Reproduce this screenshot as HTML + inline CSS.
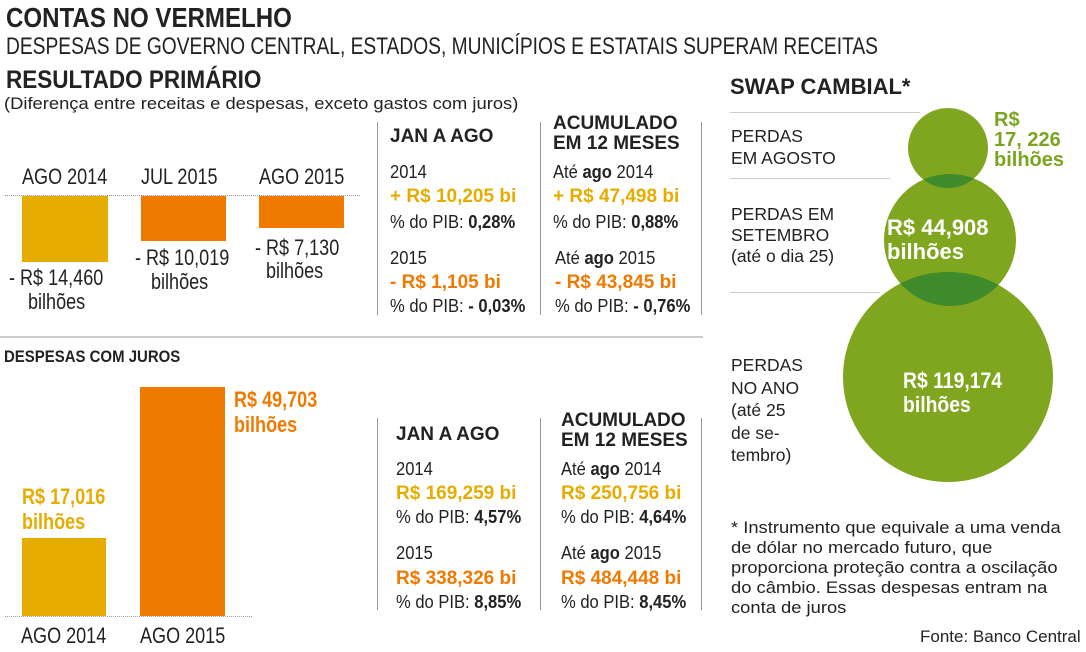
<!DOCTYPE html>
<html><head><meta charset="utf-8"><style>
body{margin:0;width:1086px;height:652px;background:#fff;position:relative;overflow:hidden;font-family:"Liberation Sans",sans-serif;color:#222}
.a{position:absolute;white-space:nowrap}
.n{transform-origin:0 0}
.b{font-weight:bold}
.y{color:#e6ac00}.o{color:#f07a00}.g{color:#7aa51f}
</style></head><body>
<div class="a b n" style="left:6px;top:2px;font-size:28px;transform:scaleX(0.86)">CONTAS NO VERMELHO</div>
<div class="a n" style="left:6px;top:33px;font-size:24px;transform:scaleX(0.8)">DESPESAS DE GOVERNO CENTRAL, ESTADOS, MUNICÍPIOS E ESTATAIS SUPERAM RECEITAS</div>
<div class="a b n" style="left:6px;top:66px;font-size:25px;transform:scaleX(0.9)">RESULTADO PRIMÁRIO</div>
<div class="a n" style="left:4px;top:94px;font-size:17px;transform:scaleX(1.08)">(Diferença entre receitas e despesas, exceto gastos com juros)</div>

<div class="a" style="left:5px;top:195px;width:355px;border-top:1px dotted #999"></div>
<div class="a n" style="left:22px;top:164px;font-size:22px;transform:scaleX(0.82)">AGO 2014</div>
<div class="a n" style="left:141px;top:164px;font-size:22px;transform:scaleX(0.82)">JUL 2015</div>
<div class="a n" style="left:259px;top:164px;font-size:22px;transform:scaleX(0.82)">AGO 2015</div>
<div class="a" style="left:22px;top:196px;width:86px;height:66px;background:#e6ac00"></div>
<div class="a" style="left:141px;top:196px;width:85px;height:45px;background:#f07a00"></div>
<div class="a" style="left:259px;top:196px;width:85px;height:32px;background:#f07a00"></div>
<div class="a n" style="left:9px;top:265px;font-size:22px;transform:scaleX(0.82)">- R$ 14,460</div>
<div class="a n" style="left:28px;top:289px;font-size:22px;transform:scaleX(0.82)">bilhões</div>
<div class="a n" style="left:135px;top:245px;font-size:22px;transform:scaleX(0.82)">- R$ 10,019</div>
<div class="a n" style="left:151px;top:269px;font-size:22px;transform:scaleX(0.82)">bilhões</div>
<div class="a n" style="left:255px;top:235px;font-size:22px;transform:scaleX(0.82)">- R$ 7,130</div>
<div class="a n" style="left:266px;top:258px;font-size:22px;transform:scaleX(0.82)">bilhões</div>

<div class="a" style="left:377px;top:122px;height:193px;border-left:1px solid #999"></div>
<div class="a" style="left:540px;top:122px;height:193px;border-left:1px solid #999"></div>
<div class="a" style="left:701px;top:122px;height:193px;border-left:1px solid #999"></div>
<div class="a b" style="left:390px;top:126px;font-size:19px">JAN A AGO</div>
<div class="a b" style="left:553px;top:114px;font-size:19px;line-height:20px">ACUMULADO<br>EM 12 MESES</div>
<div class="a n" style="left:390px;top:162px;font-size:18px;transform:scaleX(0.92)">2014</div>
<div class="a b y" style="left:390px;top:186px;font-size:19px">+ R$ 10,205 bi</div>
<div class="a n" style="left:390px;top:212px;font-size:18px;transform:scaleX(0.92)">% do PIB: <b>0,28%</b></div>
<div class="a n" style="left:390px;top:248px;font-size:18px;transform:scaleX(0.92)">2015</div>
<div class="a b o" style="left:390px;top:272px;font-size:19px">- R$ 1,105 bi</div>
<div class="a n" style="left:390px;top:296px;font-size:18px;transform:scaleX(0.92)">% do PIB: <b>- 0,03%</b></div>
<div class="a n" style="left:553px;top:162px;font-size:18px;transform:scaleX(0.92)">Até <b>ago</b> 2014</div>
<div class="a b y" style="left:553px;top:186px;font-size:19px">+ R$ 47,498 bi</div>
<div class="a n" style="left:553px;top:212px;font-size:18px;transform:scaleX(0.92)">% do PIB: <b>0,88%</b></div>
<div class="a n" style="left:555px;top:248px;font-size:18px;transform:scaleX(0.92)">Até <b>ago</b> 2015</div>
<div class="a b o" style="left:555px;top:272px;font-size:19px">- R$ 43,845 bi</div>
<div class="a n" style="left:555px;top:296px;font-size:18px;transform:scaleX(0.92)">% do PIB: <b>- 0,76%</b></div>

<div class="a" style="left:0;top:336px;width:703px;border-top:2px solid #ccc"></div>
<div class="a b n" style="left:4px;top:347px;font-size:17px;transform:scaleX(0.88)">DESPESAS COM JUROS</div>
<div class="a" style="left:22px;top:538px;width:84px;height:78px;background:#e6ac00"></div>
<div class="a" style="left:140px;top:387px;width:85px;height:229px;background:#f07a00"></div>
<div class="a" style="left:5px;top:616px;width:247px;border-top:1px dotted #999"></div>
<div class="a b y n" style="left:22px;top:484px;font-size:22px;line-height:25px;transform:scaleX(0.82)">R$ 17,016<br>bilhões</div>
<div class="a b o n" style="left:234px;top:387px;font-size:22px;line-height:25px;transform:scaleX(0.82)">R$ 49,703<br>bilhões</div>
<div class="a n" style="left:21px;top:623px;font-size:22px;transform:scaleX(0.82)">AGO 2014</div>
<div class="a n" style="left:140px;top:623px;font-size:22px;transform:scaleX(0.82)">AGO 2015</div>

<div class="a" style="left:377px;top:418px;height:192px;border-left:1px solid #999"></div>
<div class="a" style="left:540px;top:418px;height:192px;border-left:1px solid #999"></div>
<div class="a" style="left:701px;top:418px;height:192px;border-left:1px solid #999"></div>
<div class="a b" style="left:396px;top:424px;font-size:19px">JAN A AGO</div>
<div class="a b" style="left:561px;top:411px;font-size:19px;line-height:20px">ACUMULADO<br>EM 12 MESES</div>
<div class="a n" style="left:396px;top:459px;font-size:18px;transform:scaleX(0.92)">2014</div>
<div class="a b y" style="left:396px;top:483px;font-size:19px">R$ 169,259 bi</div>
<div class="a n" style="left:396px;top:507px;font-size:18px;transform:scaleX(0.92)">% do PIB: <b>4,57%</b></div>
<div class="a n" style="left:396px;top:543px;font-size:18px;transform:scaleX(0.92)">2015</div>
<div class="a b o" style="left:396px;top:568px;font-size:19px">R$ 338,326 bi</div>
<div class="a n" style="left:396px;top:592px;font-size:18px;transform:scaleX(0.92)">% do PIB: <b>8,85%</b></div>
<div class="a n" style="left:561px;top:459px;font-size:18px;transform:scaleX(0.92)">Até <b>ago</b> 2014</div>
<div class="a b y" style="left:561px;top:483px;font-size:19px">R$ 250,756 bi</div>
<div class="a n" style="left:561px;top:507px;font-size:18px;transform:scaleX(0.92)">% do PIB: <b>4,64%</b></div>
<div class="a n" style="left:561px;top:543px;font-size:18px;transform:scaleX(0.92)">Até <b>ago</b> 2015</div>
<div class="a b o" style="left:561px;top:568px;font-size:19px">R$ 484,448 bi</div>
<div class="a n" style="left:561px;top:592px;font-size:18px;transform:scaleX(0.92)">% do PIB: <b>8,45%</b></div>

<div class="a b" style="left:730px;top:74px;font-size:22px">SWAP CAMBIAL*</div>
<div class="a" style="left:730px;top:112px;width:190px;border-top:1px solid #ccc"></div>
<div class="a" style="left:730px;top:178px;width:160px;border-top:1px solid #ccc"></div>
<div class="a" style="left:730px;top:292px;width:150px;border-top:1px solid #ccc"></div>
<svg class="a" style="left:0;top:0" width="1086" height="652">
<defs><clipPath id="c1"><circle cx="948" cy="148" r="40"/></clipPath><clipPath id="c2"><circle cx="950" cy="240" r="66"/></clipPath></defs>
<circle cx="948" cy="148" r="40" fill="#7fa61e"/>
<circle cx="950" cy="240" r="66" fill="#7fa61e"/>
<circle cx="948" cy="377" r="105" fill="#7fa61e"/>
<circle cx="950" cy="240" r="66" fill="#3f8a2a" clip-path="url(#c1)"/>
<circle cx="948" cy="377" r="105" fill="#3f8a2a" clip-path="url(#c2)"/>
</svg>
<div class="a" style="left:731px;top:125px;font-size:17.5px;line-height:22px">PERDAS<br>EM AGOSTO</div>
<div class="a" style="left:731px;top:204px;font-size:17.5px;line-height:21px">PERDAS EM<br>SETEMBRO<br>(até o dia 25)</div>
<div class="a" style="left:731px;top:354px;font-size:17.5px;line-height:22.5px">PERDAS<br>NO ANO<br>(até 25<br>de se-<br>tembro)</div>
<div class="a b g" style="left:994px;top:110px;font-size:20px;line-height:20px">R$<br>17, 226<br>bilhões</div>
<div class="a b" style="left:887px;top:216px;font-size:22px;line-height:24px;color:#fff">R$ 44,908<br>bilhões</div>
<div class="a b n" style="left:903px;top:369px;font-size:22px;line-height:24px;color:#fff;transform:scaleX(0.88)">R$ 119,174<br>bilhões</div>
<div class="a n" style="left:731px;top:518px;font-size:17px;line-height:20px;transform:scaleX(1.08)">* Instrumento que equivale a uma venda<br>de dólar no mercado futuro, que<br>proporciona proteção contra a oscilação<br>do câmbio. Essas despesas entram na<br>conta de juros</div>
<div class="a" style="left:920px;top:627px;font-size:17px">Fonte: Banco Central</div>
</body></html>
